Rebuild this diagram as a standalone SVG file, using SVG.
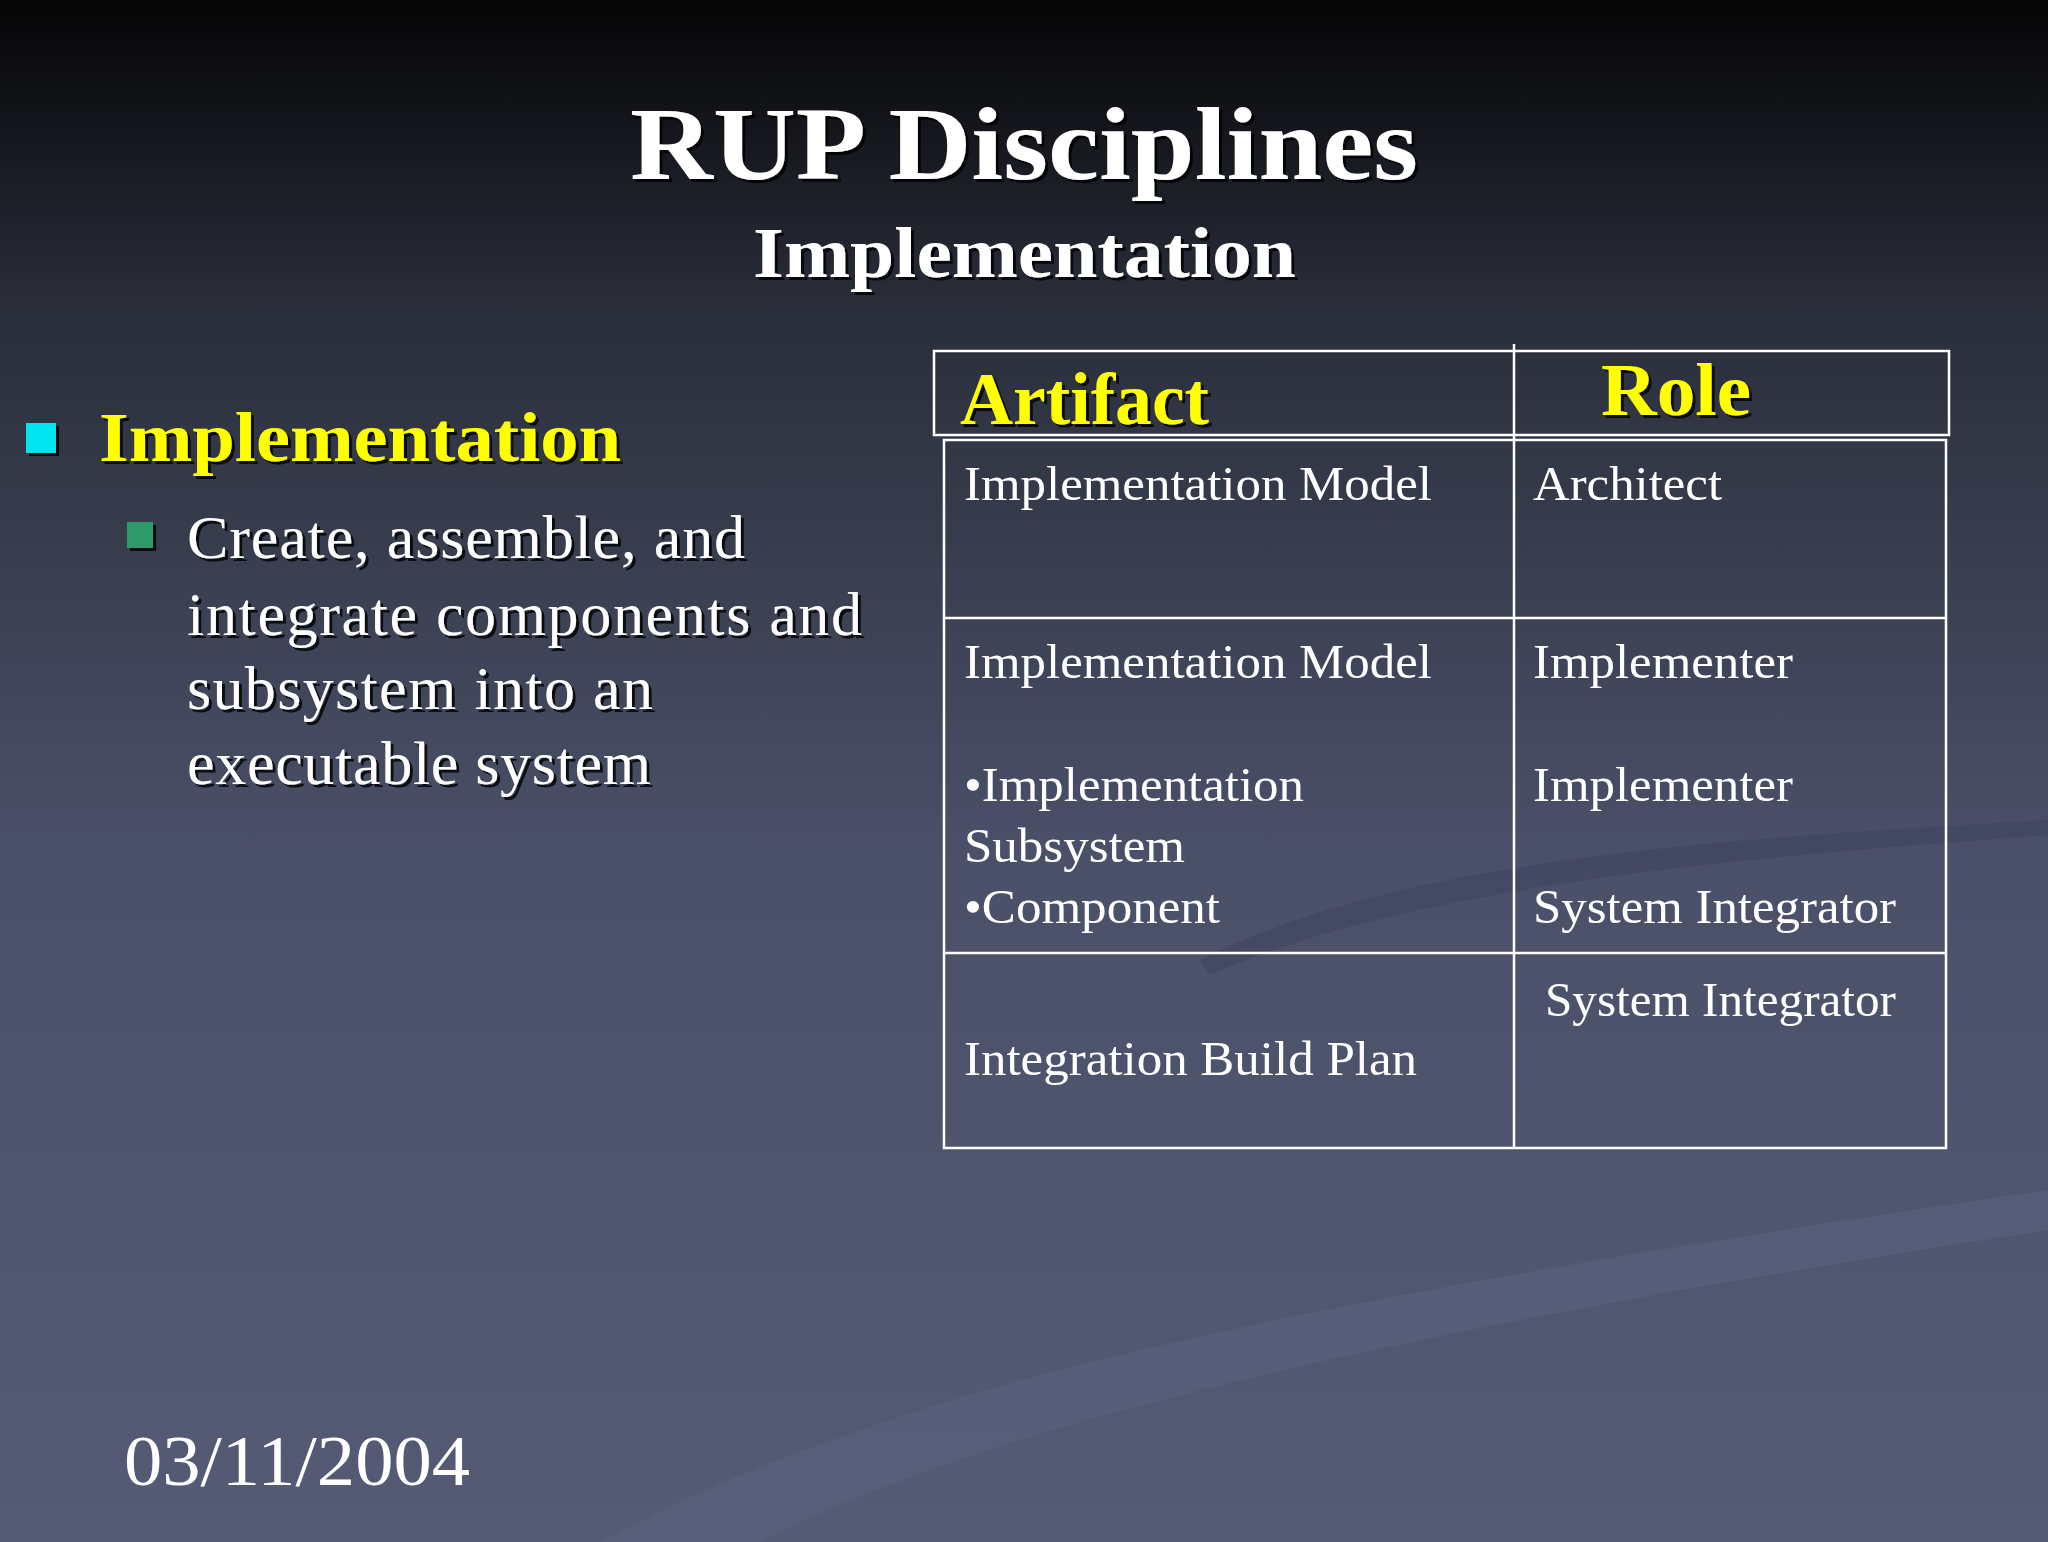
<svg xmlns="http://www.w3.org/2000/svg" width="2048" height="1542" viewBox="0 0 2048 1542">
<defs>
<linearGradient id="bg" x1="0" y1="0" x2="0" y2="1">
<stop offset="0" stop-color="#050506"/>
<stop offset="0.2" stop-color="#2a2e3a"/>
<stop offset="0.55" stop-color="#4a5068"/>
<stop offset="1" stop-color="#555b74"/>
</linearGradient>
<filter id="sh" x="-5%" y="-5%" width="110%" height="120%"><feDropShadow dx="3" dy="3" stdDeviation="0.5" flood-color="#000" flood-opacity="0.8"/></filter>
<style>
.t{font-family:"Liberation Serif",serif;fill:#fff}
.y{fill:#ffff00;font-weight:bold}
.c{font-size:48px;fill:#fff;font-family:"Liberation Serif",serif}
.l{stroke:#fff;stroke-width:2.5;fill:none}
</style>
</defs>
<rect width="2048" height="1542" fill="url(#bg)"/>
<path d="M600 1542 C900 1380 1300 1300 2048 1190 L2048 1230 C1400 1330 1000 1420 760 1542 Z" fill="#5c6280" opacity="0.6"/>
<path d="M1200 960 C1400 860 1700 840 2048 820 L2048 835 C1700 860 1400 890 1210 975 Z" fill="#3f4560" opacity="0.6"/>
<g id="title" filter="url(#sh)">
<text class="t" x="630" y="179" font-size="104" font-weight="bold" textLength="788" lengthAdjust="spacingAndGlyphs">RUP Disciplines</text>
<text class="t" x="753" y="277" font-size="72" font-weight="bold" textLength="543" lengthAdjust="spacingAndGlyphs">Implementation</text>
</g>
<g id="bullets" filter="url(#sh)">
<rect x="26" y="423" width="30" height="30" fill="#00e5f0"/>
<text class="t y" x="99" y="461" font-size="70" textLength="522" lengthAdjust="spacingAndGlyphs">Implementation</text>
<rect x="127" y="522" width="26" height="26" fill="#2e9a6a"/>
<text class="t" font-size="62" lengthAdjust="spacingAndGlyphs"><tspan x="187" y="558" textLength="558">Create, assemble, and</tspan><tspan x="187" y="635" textLength="675">integrate components and</tspan><tspan x="187" y="709" textLength="466">subsystem into an</tspan><tspan x="187" y="784" textLength="464">executable system</tspan></text>
</g>
<g id="table">
<rect class="l" x="934" y="351" width="1015" height="84"/>
<line class="l" x1="1514" y1="344" x2="1514" y2="1148"/>
<rect class="l" x="944" y="440" width="1002" height="708"/>
<line class="l" x1="944" y1="618" x2="1946" y2="618"/>
<line class="l" x1="944" y1="953" x2="1946" y2="953"/>
<text class="t y" x="960" y="424" font-size="74" filter="url(#sh)" textLength="249" lengthAdjust="spacingAndGlyphs">Artifact</text>
<text class="t y" x="1601" y="415" font-size="74" filter="url(#sh)" textLength="150" lengthAdjust="spacingAndGlyphs">Role</text>
<text class="c" x="964" y="500" textLength="468" lengthAdjust="spacingAndGlyphs">Implementation Model</text>
<text class="c" x="1533" y="500" textLength="189" lengthAdjust="spacingAndGlyphs">Architect</text>
<text class="c" x="964" y="678" textLength="468" lengthAdjust="spacingAndGlyphs">Implementation Model</text>
<text class="c" x="1533" y="678" textLength="260" lengthAdjust="spacingAndGlyphs">Implementer</text>
<text class="c" x="964" y="801" textLength="340" lengthAdjust="spacingAndGlyphs">•Implementation</text>
<text class="c" x="964" y="862" textLength="221" lengthAdjust="spacingAndGlyphs">Subsystem</text>
<text class="c" x="964" y="923" textLength="256" lengthAdjust="spacingAndGlyphs">•Component</text>
<text class="c" x="1533" y="801" textLength="260" lengthAdjust="spacingAndGlyphs">Implementer</text>
<text class="c" x="1533" y="923" textLength="363" lengthAdjust="spacingAndGlyphs">System Integrator</text>
<text class="c" x="1545" y="1016" textLength="351" lengthAdjust="spacingAndGlyphs">System Integrator</text>
<text class="c" x="964" y="1075" textLength="453" lengthAdjust="spacingAndGlyphs">Integration Build Plan</text>
</g>
<text class="t" x="124" y="1485" font-size="72" textLength="346" lengthAdjust="spacingAndGlyphs">03/11/2004</text>
</svg>
